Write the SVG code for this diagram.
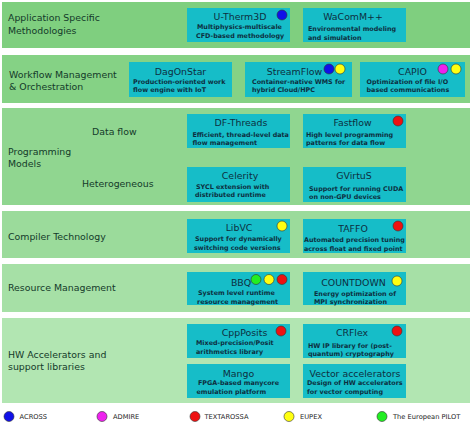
<svg xmlns="http://www.w3.org/2000/svg" width="474" height="423" viewBox="0 0 474 423">
<style>
.bg{fill:#ffffff}
.box{fill:#16bdc8}
.t{font-family:"DejaVu Sans",sans-serif;font-size:9.4px;fill:#0d2f3f;text-anchor:middle}
.d{font-family:"DejaVu Sans",sans-serif;font-size:6.4px;font-weight:bold;fill:#0d2f3f}
.l{font-family:"DejaVu Sans",sans-serif;font-size:9.4px;fill:#143a2a}
.lg{font-family:"DejaVu Sans",sans-serif;font-size:6.7px;fill:#222}
.c{stroke:#333;stroke-width:0.6}
.blue{fill:#1010e8}
.mag{fill:#ee22ee}
.red{fill:#ee1111}
.yel{fill:#ffff10}
.grn{fill:#22ee22}
</style>
<rect class="bg" x="0" y="0" width="474" height="423"/>
<g id="bands">
<rect x="2" y="2" width="468" height="46" fill="#7fcf7f"/>
<rect x="2" y="55" width="468" height="48" fill="#85d285"/>
<rect x="2" y="108" width="468" height="97" fill="#90d690"/>
<rect x="2" y="211" width="468" height="47" fill="#9bdb9b"/>
<rect x="2" y="264" width="468" height="48" fill="#a6e0a6"/>
<rect x="2" y="318" width="468" height="85" fill="#b2e6b2"/>
</g>
<g id="labels">
<text class="l" x="8" y="20.5">Application Specific</text>
<text class="l" x="8" y="33.5">Methodologies</text>
<text class="l" x="9" y="78">Workflow Management</text>
<text class="l" x="9" y="89.5">&amp; Orchestration</text>
<text class="l" x="8" y="155">Programming</text>
<text class="l" x="8" y="167">Models</text>
<text class="l" x="92" y="135">Data flow</text>
<text class="l" x="82" y="186.5">Heterogeneous</text>
<text class="l" x="8" y="239.5">Compiler Technology</text>
<text class="l" x="8" y="290.5">Resource Management</text>
<text class="l" x="8" y="357.5">HW Accelerators and</text>
<text class="l" x="8" y="369.5">support libraries</text>
</g>
<g id="connectors"/>
<g id="n-utherm3d">
<rect class="box" x="187" y="8" width="103" height="34"/>
<text class="t" x="240" y="19.5">U-Therm3D</text>
<text class="d" x="197" y="28.5">Multiphysics-multiscale</text>
<text class="d" x="196" y="37.5">CFD-based methodology</text>
<circle class="c blue" cx="282" cy="15" r="5"/>
</g>
<g id="n-wacomm">
<rect class="box" x="303" y="8" width="103" height="34"/>
<text class="t" x="353" y="19.5">WaComM++</text>
<text class="d" x="308" y="30.5">Environmental modeling</text>
<text class="d" x="308" y="39.5">and simulation</text>
</g>
<g id="n-dagonstar">
<rect class="box" x="129" y="62" width="103" height="35"/>
<text class="t" x="180.5" y="74.5">DagOnStar</text>
<text class="d" x="133" y="83.5">Production-oriented work</text>
<text class="d" x="133" y="92">flow engine with IoT</text>
</g>
<g id="n-streamflow">
<rect class="box" x="245" y="62" width="107" height="35"/>
<text class="t" x="294.5" y="74.5">StreamFlow</text>
<text class="d" x="252" y="83.5">Container-native WMS for</text>
<text class="d" x="252" y="92">hybrid Cloud/HPC</text>
<circle class="c blue" cx="329" cy="69" r="5"/>
<circle class="c yel" cx="340" cy="69" r="5"/>
</g>
<g id="n-capio">
<rect class="box" x="360" y="62" width="105" height="35"/>
<text class="t" x="412.5" y="74.5">CAPIO</text>
<text class="d" x="366.5" y="83.5">Optimization of file I/O</text>
<text class="d" x="366.5" y="92">based communications</text>
<circle class="c mag" cx="443" cy="69" r="5"/>
<circle class="c yel" cx="456" cy="69" r="5"/>
</g>
<g id="n-dfthreads">
<rect class="box" x="187" y="114" width="103" height="34"/>
<text class="t" x="241" y="126">DF-Threads</text>
<text class="d" x="192.5" y="137">Efficient, thread-level data</text>
<text class="d" x="192.5" y="145">flow management</text>
</g>
<g id="n-fastflow">
<rect class="box" x="303" y="114" width="103" height="34"/>
<text class="t" x="352.5" y="126">Fastflow</text>
<text class="d" x="306" y="137">High level programming</text>
<text class="d" x="306" y="145">patterns for data flow</text>
<circle class="c red" cx="398" cy="121" r="5"/>
</g>
<g id="n-celerity">
<rect class="box" x="187" y="167" width="103" height="35"/>
<text class="t" x="240" y="178.5">Celerity</text>
<text class="d" x="196" y="189">SYCL extension with</text>
<text class="d" x="195" y="197">distributed runtime</text>
</g>
<g id="n-gvirtus">
<rect class="box" x="303" y="167" width="103" height="35"/>
<text class="t" x="354" y="178.5">GVirtuS</text>
<text class="d" x="309" y="190.5">Support for running CUDA</text>
<text class="d" x="309" y="198.5">on non-GPU devices</text>
</g>
<g id="n-libvc">
<rect class="box" x="187" y="219" width="103" height="34"/>
<text class="t" x="239" y="231">LibVC</text>
<text class="d" x="195" y="241">Support for dynamically</text>
<text class="d" x="194" y="250">switching code versions</text>
<circle class="c yel" cx="282" cy="226" r="5"/>
</g>
<g id="n-taffo">
<rect class="box" x="303" y="219" width="103" height="34"/>
<text class="t" x="353" y="232">TAFFO</text>
<text class="d" x="304" y="242">Automated precision tuning</text>
<text class="d" x="304" y="251">across float and fixed point</text>
<circle class="c red" cx="398" cy="226" r="5"/>
</g>
<g id="n-bbq">
<rect class="box" x="187" y="272" width="103" height="33"/>
<text class="t" x="241" y="285.5">BBQ</text>
<text class="d" x="198" y="294.5">System level runtime</text>
<text class="d" x="197" y="303.5">resource management</text>
<circle class="c grn" cx="256" cy="279.5" r="5"/>
<circle class="c yel" cx="269" cy="279.5" r="5"/>
<circle class="c red" cx="282" cy="279.5" r="5"/>
</g>
<g id="n-countdown">
<rect class="box" x="303" y="272" width="103" height="33"/>
<text class="t" x="353.5" y="285.5">COUNTDOWN</text>
<text class="d" x="314" y="296">Energy optimization of</text>
<text class="d" x="314" y="304">MPI synchronization</text>
<circle class="c yel" cx="397" cy="281" r="5"/>
</g>
<g id="n-cppposits">
<rect class="box" x="187" y="324" width="103" height="34"/>
<text class="t" x="244.5" y="336">CppPosits</text>
<text class="d" x="196" y="345">Mixed-precision/Posit</text>
<text class="d" x="196" y="354">arithmetics library</text>
<circle class="c red" cx="281" cy="331" r="5"/>
</g>
<g id="n-crflex">
<rect class="box" x="303" y="324" width="103" height="34"/>
<text class="t" x="352" y="336">CRFlex</text>
<text class="d" x="308" y="348">HW IP library for (post-</text>
<text class="d" x="308" y="356">quantum) cryptography</text>
<circle class="c red" cx="397" cy="331" r="5"/>
</g>
<g id="n-mango">
<rect class="box" x="187" y="364" width="103" height="34"/>
<text class="t" x="238.5" y="377">Mango</text>
<text class="d" x="198" y="385">FPGA-based manycore</text>
<text class="d" x="196.5" y="394">emulation platform</text>
</g>
<g id="n-vector">
<rect class="box" x="303" y="364" width="103" height="34"/>
<text class="t" x="355" y="377">Vector accelerators</text>
<text class="d" x="307" y="385">Design of HW accelerators</text>
<text class="d" x="307" y="394">for vector computing</text>
</g>
<g id="legend">
<circle class="c blue" cx="9" cy="416.5" r="5"/>
<text class="lg" x="19.5" y="419">ACROSS</text>
<circle class="c mag" cx="102" cy="416.5" r="5"/>
<text class="lg" x="113" y="419">ADMIRE</text>
<circle class="c red" cx="195" cy="416.5" r="5"/>
<text class="lg" x="204.5" y="419">TEXTAROSSA</text>
<circle class="c yel" cx="289" cy="416.5" r="5"/>
<text class="lg" x="300" y="419">EUPEX</text>
<circle class="c grn" cx="382" cy="416.5" r="5"/>
<text class="lg" x="393" y="418.5">The European PILOT</text>
</g>
</svg>
